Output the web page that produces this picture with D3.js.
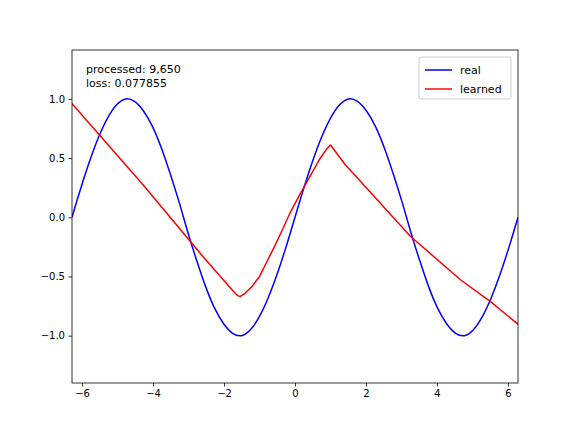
<!DOCTYPE html><html><head><meta charset="utf-8"><script src="https://cdn.jsdelivr.net/npm/d3@7"></script>
<style>body{margin:0;background:#fff}</style></head><body><svg id="c" width="576" height="432"></svg>
<script>
const realY=[0,0.25,0.48,0.68,0.84,0.95,1.00,0.98,0.90,0.77,0.59,0.37,0.13,-0.13,-0.37,-0.59,-0.77,-0.90,-0.98,-1.00,-0.95,-0.84,-0.68,-0.48,-0.25,0,
0.25,0.48,0.68,0.84,0.95,1.00,0.98,0.90,0.77,0.59,0.37,0.13,-0.13,-0.37,-0.59,-0.77,-0.90,-0.98,-1.00,-0.95,-0.84,-0.68,-0.48,-0.25,0];
const realX=realY.map((_,i)=>-6.2832+i*0.25133);
const learnedX=[-6.34,-4.27,-2.6,-1.75,-1.62,-1.55,-1.4,-1.2,-1.0,-0.8,-0.6,-0.44,-0.15,0.13,0.45,0.69,0.9,1.0,1.1,1.4,3.25,4.67,5.5,6.31];
const learnedY=[0.98,0.27,-0.33,-0.62,-0.66,-0.67,-0.64,-0.58,-0.5,-0.38,-0.26,-0.16,0.03,0.19,0.36,0.49,0.58,0.61,0.57,0.45,-0.16,-0.53,-0.71,-0.91];
const xTicks=[-6,-4,-2,0,2,4,6], yTicks=[-1.0,-0.5,0.0,0.5,1.0];
const svg=d3.select("#c"), L=72,R=518,T=50,B=383;
const x=d3.scaleLinear().domain([-6.2832,6.2832]).range([L,R]);
const y=d3.scaleLinear().domain([-1.4,1.413]).range([B,T]);
const fmt=d=>String(d).replace("-","\u2212");
const ax=svg.append("g").attr("transform",`translate(0,${B})`).call(d3.axisBottom(x).tickValues(xTicks).tickSize(3.5).tickPadding(3.5).tickFormat(fmt));
const ay=svg.append("g").attr("transform",`translate(${L},0)`).call(d3.axisLeft(y).tickValues(yTicks).tickSize(3.5).tickPadding(3.5).tickFormat(d=>fmt(d.toFixed(1))));
[ax,ay].forEach(g=>{g.select(".domain").remove();g.selectAll("text").attr("font-family","DejaVu Sans").attr("font-size",10).attr("fill","#000");g.selectAll("line").attr("stroke","#000").attr("stroke-width",0.8);});
svg.append("clipPath").attr("id","cl").append("rect").attr("x",L).attr("y",T).attr("width",R-L).attr("height",B-T);
svg.append("path").attr("clip-path","url(#cl)").attr("d",d3.line().x(d=>x(d[0])).y(d=>y(d[1])).curve(d3.curveCardinal)(realX.map((v,i)=>[v,realY[i]]))).attr("fill","none").attr("stroke","blue").attr("stroke-width",1.5);
svg.append("path").attr("clip-path","url(#cl)").attr("d",d3.line().x(d=>x(d[0])).y(d=>y(d[1]))(learnedX.map((v,i)=>[v,learnedY[i]]))).attr("fill","none").attr("stroke","red").attr("stroke-width",1.5).attr("stroke-linejoin","round");
svg.append("rect").attr("x",L).attr("y",T).attr("width",R-L).attr("height",B-T).attr("fill","none").attr("stroke","#000").attr("stroke-width",0.8);
[["processed: 9,650",73],["loss: 0.077855",87]].forEach(([t,yy])=>svg.append("text").attr("x",86).attr("y",yy).attr("font-family","DejaVu Sans").attr("font-size",11).text(t));
const lg=svg.append("g");
lg.append("rect").attr("x",419).attr("y",57).attr("width",92).attr("height",42).attr("rx",2).attr("fill","#fff").attr("fill-opacity",0.8).attr("stroke","#ccc");
[["real","blue",70],["learned","red",89]].forEach(([t,c,yy])=>{lg.append("line").attr("x1",425).attr("x2",452).attr("y1",yy).attr("y2",yy).attr("stroke",c).attr("stroke-width",1.5);
lg.append("text").attr("x",460).attr("y",yy+4).attr("font-family","DejaVu Sans").attr("font-size",11).text(t);});
</script></body></html>
